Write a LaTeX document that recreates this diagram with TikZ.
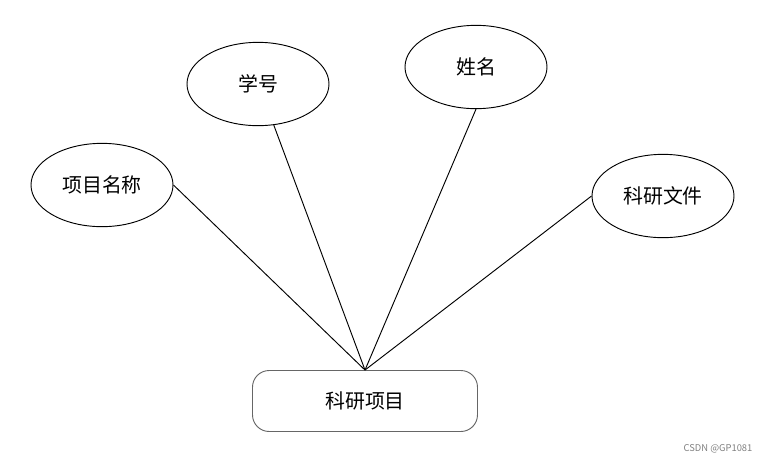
\documentclass[tikz,border=0pt]{standalone}
\usepackage{fontspec}
\newfontfamily\cjk{Noto Sans CJK SC}
\usetikzlibrary{shapes.geometric}
\tikzset{
  attr/.style={ellipse,draw,thick,minimum width=4.26cm,minimum height=2.5cm,font=\cjk\fontsize{17}{20}\selectfont},
  entity/.style={rectangle,draw=black!60,thick,rounded corners=0.5cm,minimum width=6.75cm,minimum height=1.83cm,font=\cjk\fontsize{17}{20}\selectfont},
  link/.style={thick}
}
\begin{document}
\begin{tikzpicture}[x=0.03cm,y=-0.03cm]
	\useasboundingbox (0,0) rectangle (776,463);
	% Place nodes
	\node [attr] (name) at (102,185) {项目名称};
	\node [attr] (sid) at (258,84) {学号};
	\node [attr] (sname) at (476,67) {姓名};
	\node [attr] (file) at (663,196) {科研文件};
	\node [entity] (proj) at (365,401) {科研项目};
	\node [text=black!50,font=\cjk\fontsize{8}{10}\selectfont] (mark) at (718,449) {CSDN @GP1081};
	% Connectors
	\draw [link] (name.east) -- (proj.north);
	\draw [link] (sid.-69) -- (proj.north);
	\draw [link] (sname.south) -- (proj.north);
	\draw [link] (file.west) -- (proj.north);
\end{tikzpicture}
\end{document}
